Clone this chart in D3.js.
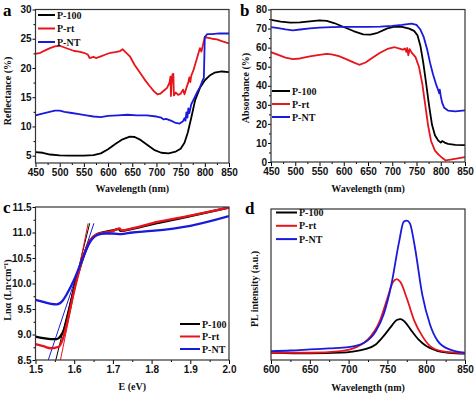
<!DOCTYPE html>
<html>
<head>
<meta charset="utf-8">
<script src="https://cdn.jsdelivr.net/npm/d3@7"></script>
<style>
  body { margin: 0; background: #fff; }
  svg { display: block; }
  .tick text { font-family: "Liberation Sans", Arial, sans-serif; font-weight: bold; font-size: 10px; fill: #111; }
  .ttl { font-family: "Liberation Serif", "Times New Roman", serif; font-weight: bold; font-size: 10px; fill: #111; }
  .letter { font-family: "Liberation Serif", "Times New Roman", serif; font-weight: bold; font-size: 17px; fill: #000; }
</style>
</head>
<body>
<svg id="chart" width="474" height="394"></svg>
<script>
// ---------------- data ----------------
const names = ["P-100", "P-rt", "P-NT"];
const colors = ["#000000", "#e8141c", "#1a1adc"];

// panel a: reflectance (%) vs wavelength (nm)
const reflP100 = [[450,5.6],[465,5.5],[480,5.2],[500,5.05],[520,5.0],[550,5.0],[570,5.1],[585,5.4],[600,6.1],[615,7.0],[630,7.8],[645,8.25],[655,8.2],[665,7.8],[680,6.9],[695,6.0],[710,5.5],[725,5.4],[740,5.7],[750,6.2],[758,7.2],[765,9.0],[772,11.5],[780,14.5],[790,16.6],[800,17.9],[810,18.7],[820,19.2],[835,19.4],[850,19.3]];
const reflPrt = [[450,22.4],[460,22.6],[470,23.0],[480,23.4],[490,23.7],[500,23.8],[510,23.5],[520,23.2],[530,22.9],[540,22.8],[550,22.6],[558,22.3],[562,21.7],[570,21.9],[575,21.7],[585,22.0],[595,22.3],[605,22.6],[615,22.7],[625,22.9],[630,23.2],[635,22.8],[645,22.0],[655,20.5],[665,19.3],[675,18.1],[685,17.0],[695,16.0],[702,15.5],[708,15.6],[715,16.1],[722,16.6],[727,17.5],[729,18.5],[730,15.2],[731,17.0],[733,18.9],[735,19.0],[736,15.3],[740,15.8],[745,15.4],[750,15.6],[755,16.3],[758,15.5],[762,16.6],[766,17.6],[768,18.4],[770,17.6],[772,18.7],[776,19.5],[780,20.6],[785,22.0],[790,23.4],[793,22.8],[796,23.9],[800,25.3],[805,25.2],[815,25.0],[825,24.9],[835,24.6],[850,24.2]];
const reflPNT = [[450,11.9],[460,12.1],[475,12.4],[490,12.7],[500,12.7],[510,12.5],[525,12.3],[540,12.1],[555,11.9],[570,11.7],[585,11.6],[600,11.8],[620,11.9],[640,12.0],[660,11.9],[680,11.9],[700,11.7],[710,11.5],[715,11.2],[720,11.3],[730,11.0],[740,10.6],[748,10.5],[755,10.9],[758,11.4],[760,11.0],[762,12.4],[764,11.5],[766,13.1],[768,12.3],[772,13.8],[778,14.8],[785,16.0],[790,16.7],[795,17.8],[798,18.3],[800,25.3],[805,25.8],[815,25.8],[830,25.9],[850,25.9]];

// panel b: absorbance (%) vs wavelength (nm)
const absP100 = [[450,74.6],[470,73.6],[490,73.1],[510,73.2],[530,73.8],[550,74.3],[565,74.0],[580,72.9],[600,70.8],[620,68.7],[640,67.0],[655,66.8],[670,67.8],[690,70.1],[705,71.0],[720,70.9],[735,70.0],[745,68.8],[752,66.5],[758,61.0],[764,52.0],[770,41.0],[776,29.5],[782,19.5],[788,14.0],[795,11.2],[800,10.2],[803,11.0],[808,10.2],[815,9.5],[830,9.0],[850,8.8]];
const absPrt = [[450,57.6],[465,56.2],[480,54.8],[495,54.0],[510,54.3],[530,55.4],[550,56.2],[565,56.7],[575,56.5],[590,55.5],[605,54.0],[620,52.3],[632,51.0],[645,52.2],[660,54.8],[675,57.3],[690,59.3],[705,60.2],[715,59.5],[722,58.9],[726,59.6],[729,57.8],[731,59.8],[733,56.0],[736,59.2],[740,57.4],[748,55.0],[755,50.0],[762,41.0],[768,30.0],[774,19.0],[780,11.0],[788,6.0],[795,4.0],[803,2.2],[810,0.8],[820,1.2],[835,1.9],[850,2.6]];
const absPNT = [[450,70.8],[465,70.2],[480,69.6],[495,69.1],[510,69.5],[530,70.1],[550,70.5],[575,70.8],[600,70.9],[625,70.9],[650,70.9],[675,71.0],[700,71.4],[720,71.9],[740,72.6],[750,71.9],[758,69.5],[765,65.5],[772,59.0],[778,52.0],[784,46.0],[790,41.0],[795,37.5],[797,36.0],[798,38.0],[800,34.5],[803,31.0],[807,28.5],[815,27.0],[830,26.6],[850,27.1]];

// panel c: ln(alpha) vs E (eV), plus linear fits
const lnaP100 = [[1.50,8.96],[1.52,8.93],[1.54,8.91],[1.555,8.91],[1.565,8.97],[1.575,9.12],[1.585,9.4],[1.60,9.92],[1.62,10.44],[1.64,10.83],[1.66,10.97],[1.68,11.01],[1.70,11.04],[1.715,11.07],[1.72,11.03],[1.75,11.07],[1.80,11.16],[1.90,11.32],[2.00,11.49]];
const lnaPrt = [[1.50,8.81],[1.52,8.77],[1.54,8.73],[1.56,8.76],[1.57,8.9],[1.58,9.18],[1.60,9.86],[1.62,10.44],[1.64,10.83],[1.66,10.97],[1.68,11.0],[1.70,11.03],[1.718,11.08],[1.722,11.04],[1.75,11.08],[1.80,11.18],[1.90,11.33],[2.00,11.49]];
const lnaPNT = [[1.50,9.68],[1.52,9.64],[1.54,9.6],[1.555,9.59],[1.57,9.66],[1.58,9.78],[1.60,10.08],[1.62,10.45],[1.64,10.8],[1.66,10.95],[1.68,10.98],[1.70,10.98],[1.72,10.97],[1.75,11.0],[1.80,11.03],[1.90,11.13],[2.00,11.32]];
const fitP100 = [[1.5525,8.5],[1.640,11.18]];
const fitPrt = [[1.5645,8.5],[1.636,11.18]];
const fitPNT = [[1.533,8.5],[1.651,11.18]];

// panel d: PL intensity (a.u.) vs wavelength (nm)
const plP100 = [[600,4.8],[650,4.4],[690,4.9],[705,5.6],[720,7.0],[735,10.3],[745,15.8],[755,22.3],[762,26.5],[767,27.1],[772,25.5],[780,20.1],[790,13.6],[800,9.2],[815,5.9],[830,4.8],[850,4.2]];
const plPrt = [[600,4.8],[650,4.8],[690,5.9],[710,8.5],[725,13.6],[740,25.6],[750,40.9],[757,51.5],[762,53.6],[767,51.5],[775,40.9],[785,25.6],[795,15.8],[805,9.2],[820,5.9],[850,4.4]];
const plPNT = [[600,5.9],[625,6.3],[650,7.0],[675,7.7],[700,8.5],[720,11.4],[735,19.0],[745,30.0],[755,49.7],[765,78.1],[771,91.5],[775,92.3],[779,90.5],[785,76.0],[795,43.1],[805,23.4],[815,12.5],[830,7.0],[850,4.8]];

// ticks
const waveTicks = [450, 500, 550, 600, 650, 700, 750, 800, 850];
const reflTicks = [5, 10, 15, 20, 25, 30];
const absTicks = [0, 10, 20, 30, 40, 50, 60, 70, 80];
const eTicks = [1.5, 1.6, 1.7, 1.8, 1.9, 2.0];
const lnaTicks = [8.5, 9.0, 9.5, 10.0, 10.5, 11.0, 11.5];
const plTicks = [600, 650, 700, 750, 800, 850];

// ---------------- drawing ----------------
const svg = d3.select("#chart");

function panel(p) {
  const x = d3.scaleLinear().domain(p.xDomain).range([p.left, p.right]);
  const y = d3.scaleLinear().domain(p.yDomain).range([p.bottom, p.top]);
  const g = svg.append("g");

  // clip
  const cid = "clip-" + p.letter;
  svg.append("clipPath").attr("id", cid).append("rect")
    .attr("x", p.left).attr("y", p.top)
    .attr("width", p.right - p.left).attr("height", p.bottom - p.top);

  // minor ticks
  const xStep = p.xTicks[1] - p.xTicks[0];
  const xMinor = p.xTicks.slice(0, -1).map(v => v + xStep / 2);
  g.append("g").attr("transform", `translate(0,${p.bottom})`)
    .call(d3.axisBottom(x).tickValues(xMinor).tickSize(2).tickFormat(""))
    .call(s => s.select(".domain").remove());
  if (p.yTicks) {
    const yStep = p.yTicks[1] - p.yTicks[0];
    const yMinor = p.yTicks.slice(0, -1).map(v => v + yStep / 2);
    g.append("g").attr("transform", `translate(${p.left},0)`)
      .call(d3.axisLeft(y).tickValues(yMinor).tickSize(2).tickFormat(""))
      .call(s => s.select(".domain").remove());
  }

  // major axes
  g.append("g").attr("transform", `translate(0,${p.bottom})`)
    .call(d3.axisBottom(x).tickValues(p.xTicks).tickSize(4).tickPadding(2).tickFormat(p.xFmt))
    .call(s => s.select(".domain").remove());
  if (p.yTicks) {
    g.append("g").attr("transform", `translate(${p.left},0)`)
      .call(d3.axisLeft(y).tickValues(p.yTicks).tickSize(3).tickPadding(1).tickFormat(p.yFmt))
      .call(s => s.select(".domain").remove());
  }

  // curves
  const line = d3.line().x(d => x(d[0])).y(d => y(d[1])).curve(p.curve || d3.curveLinear);
  const lg = g.append("g").attr("clip-path", `url(#${cid})`);
  if (p.fits) {
    p.fits.forEach((f, i) => {
      lg.append("path").datum(f).attr("d", d3.line().x(d => x(d[0])).y(d => y(d[1])))
        .attr("fill", "none").attr("stroke", colors[i]).attr("stroke-width", 1);
    });
  }
  p.series.forEach((s, i) => {
    lg.append("path").datum(s).attr("d", line)
      .attr("fill", "none").attr("stroke", colors[i])
      .attr("stroke-width", p.lw || 1.8).attr("stroke-linejoin", "round");
  });

  // frame
  g.append("rect").attr("x", p.left).attr("y", p.top)
    .attr("width", p.right - p.left).attr("height", p.bottom - p.top)
    .attr("fill", "none").attr("stroke", "#333").attr("stroke-width", 1.2);

  // legend
  names.forEach((n, i) => {
    const ly = p.legY + i * p.legGap;
    g.append("line").attr("x1", p.legX).attr("x2", p.legX + p.legLen)
      .attr("y1", ly).attr("y2", ly).attr("stroke", colors[i]).attr("stroke-width", 2);
    g.append("text").attr("class", "ttl").attr("x", p.legX + p.legLen + 2).attr("y", ly + 3.5).text(n);
  });

  // titles
  g.append("text").attr("class", "ttl").attr("text-anchor", "middle")
    .attr("x", (p.left + p.right) / 2).attr("y", p.xTitleY).text(p.xTitle);
  g.append("text").attr("class", "ttl").attr("text-anchor", "middle")
    .attr("transform", `translate(${p.yTitleX},${p.yTitleCY}) rotate(-90)`).text(p.yTitle);
  g.append("text").attr("class", "letter").attr("x", p.letterX).attr("y", p.letterY).text(p.letter);
}

panel({
  letter: "a", letterX: 3, letterY: 15.5,
  left: 35.5, right: 229, top: 9.5, bottom: 163,
  xDomain: [450, 850], yDomain: [3.75, 30],
  xTicks: waveTicks, yTicks: reflTicks, xFmt: d3.format("d"), yFmt: d3.format("d"),
  series: [reflP100, reflPrt, reflPNT],
  legX: 38, legY: 15, legGap: 13.5, legLen: 17,
  xTitle: "Wavelength (nm)", xTitleY: 192,
  yTitle: "Reflectance (%)", yTitleX: 11, yTitleCY: 91
});

panel({
  letter: "b", letterX: 240, letterY: 16,
  left: 271, right: 465, top: 9.5, bottom: 162,
  xDomain: [450, 850], yDomain: [0, 80],
  xTicks: waveTicks, yTicks: absTicks, xFmt: d3.format("d"), yFmt: d3.format("d"),
  series: [absP100, absPrt, absPNT],
  legX: 272, legY: 91, legGap: 13, legLen: 18,
  xTitle: "Wavelength (nm)", xTitleY: 192,
  yTitle: "Absorbance (%)", yTitleX: 249, yTitleCY: 88
});

panel({
  letter: "c", letterX: 3, letterY: 213,
  left: 35.5, right: 229, top: 207, bottom: 360,
  xDomain: [1.5, 2.0], yDomain: [8.5, 11.5],
  xTicks: eTicks, yTicks: lnaTicks, xFmt: d3.format(".1f"), yFmt: d3.format(".1f"),
  series: [lnaP100, lnaPrt, lnaPNT], fits: [fitP100, fitPrt, fitPNT], lw: 2.3,
  curve: d3.curveMonotoneX,
  legX: 180, legY: 324, legGap: 12.5, legLen: 20,
  xTitle: "E (eV)", xTitleY: 390,
  yTitle: "Lnα (Ln·cm⁻¹)", yTitleX: 11, yTitleCY: 290
});

panel({
  letter: "d", letterX: 245, letterY: 214,
  left: 271, right: 465, top: 209, bottom: 360,
  xDomain: [600, 850], yDomain: [0, 100],
  xTicks: plTicks, yTicks: null, xFmt: d3.format("d"),
  series: [plP100, plPrt, plPNT], curve: d3.curveMonotoneX,
  legX: 276, legY: 212.5, legGap: 13.3, legLen: 21,
  xTitle: "Wavelength (nm)", xTitleY: 391,
  yTitle: "PL intensity (a.u.)", yTitleX: 258, yTitleCY: 289
});
</script>
</body>
</html>
